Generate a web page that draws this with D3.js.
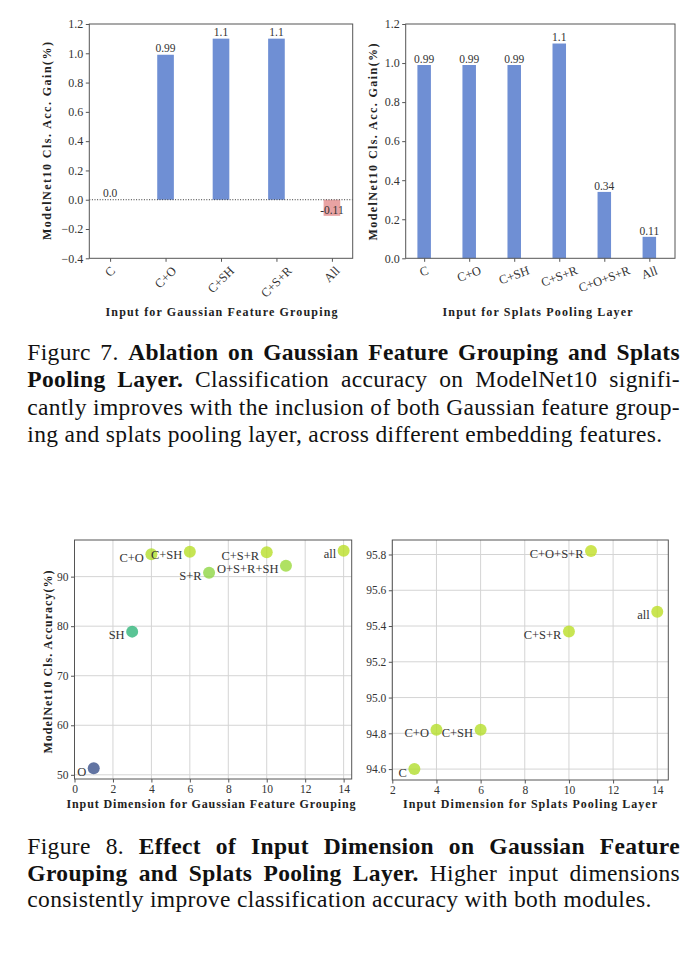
<!DOCTYPE html>
<html><head><meta charset="utf-8">
<script src="https://cdn.jsdelivr.net/npm/d3@7"></script>
<style>body{margin:0;background:#fff} svg{display:block}</style>
</head><body>
<svg id="fig" width="700" height="954"></svg>
<script>
// ---------- data ----------
const groupCats = ["C", "C+O", "C+SH", "C+S+R", "All"];
const groupGain = [0.0, 0.99, 1.1, 1.1, -0.11];
const groupLabels = ["0.0", "0.99", "1.1", "1.1", "-0.11"];
const groupTicks = [-0.4, -0.2, 0.0, 0.2, 0.4, 0.6, 0.8, 1.0, 1.2];

const poolCats = ["C", "C+O", "C+SH", "C+S+R", "C+O+S+R", "All"];
const poolGain = [0.99, 0.99, 0.99, 1.1, 0.34, 0.11];
const poolLabels = ["0.99", "0.99", "0.99", "1.1", "0.34", "0.11"];
const poolTicks = [0.0, 0.2, 0.4, 0.6, 0.8, 1.0, 1.2];

const dimGroupNames = ["O", "SH", "C+O", "C+SH", "S+R", "C+S+R", "O+S+R+SH", "all"];
const dimGroupX = [1, 3, 4, 6, 7, 10, 11, 14];
const dimGroupAcc = [51.35, 78.9, 94.5, 95.0, 90.8, 94.9, 92.2, 95.2];
const dimGroupXTicks = [0, 2, 4, 6, 8, 10, 12, 14];
const dimGroupYTicks = [50, 60, 70, 80, 90];

const dimPoolNames = ["C", "C+O", "C+SH", "C+S+R", "C+O+S+R", "all"];
const dimPoolX = [3, 4, 6, 10, 11, 14];
const dimPoolAcc = [94.6, 94.82, 94.82, 95.37, 95.82, 95.48];
const dimPoolXTicks = [2, 4, 6, 8, 10, 12, 14];
const dimPoolYTicks = [94.6, 94.8, 95.0, 95.2, 95.4, 95.6, 95.8];

const cap7 = [
  [["Figurc 7. ", false], ["Ablation on Gaussian Feature Grouping and Splats", true]],
  [["Pooling Layer.", true], [" Classification accuracy on ModelNet10 signifi-", false]],
  [["cantly improves with the inclusion of both Gaussian feature group-", false]],
  [["ing and splats pooling layer, across different embedding features.", false]]
];
const cap8 = [
  [["Figure 8. ", false], ["Effect of Input Dimension on Gaussian Feature", true]],
  [["Grouping and Splats Pooling Layer.", true], [" Higher input dimensions", false]],
  [["consistently improve classification accuracy with both modules.", false]]
];

// ---------- style ----------
const SERIF = "'Liberation Serif', 'Times New Roman', serif";
const BLUE = "#6f8fd4", RED = "#e9a3a3";
const SPINE = "#555", TXT = "#333", GRID = "#d4d4d4";

const svg = d3.select("#fig");
svg.append("rect").attr("width", 700).attr("height", 954).attr("fill", "#fff");

function frame(g, x0, x1, y0, y1) {
  g.append("rect").attr("x", x0).attr("y", y0).attr("width", x1 - x0).attr("height", y1 - y0)
    .attr("fill", "none").attr("stroke", SPINE).attr("stroke-width", 1);
}
function styleAxis(ax, fs) {
  ax.select(".domain").remove();
  ax.selectAll(".tick line").attr("stroke", SPINE);
  ax.selectAll(".tick text").attr("font-family", SERIF).attr("font-size", fs).attr("fill", TXT);
}
function title(g, text, x, y, len, rotate) {
  const t = g.append("text").text(text)
    .attr("font-family", SERIF).attr("font-weight", "bold").attr("font-size", 12)
    .attr("fill", "#222").attr("text-anchor", "middle")
    .attr("textLength", len).attr("lengthAdjust", "spacing");
  if (rotate) t.attr("transform", `translate(${x},${y}) rotate(-90)`);
  else t.attr("x", x).attr("y", y);
}

// ---------- bar charts ----------
function barChart(o) {
  const g = svg.append("g");
  const x = d3.scaleLinear().domain(o.xDom).range([o.x0, o.x1]);
  const y = d3.scaleLinear().domain(o.yDom).range([o.y1, o.y0]);
  const bw = x(0.3) - x(0);
  g.selectAll("rect.bar").data(o.vals).join("rect").attr("class", "bar")
    .attr("x", (d, i) => x(i) - bw / 2)
    .attr("y", d => Math.min(y(d), y(0)))
    .attr("width", bw)
    .attr("height", d => Math.abs(y(d) - y(0)))
    .attr("fill", d => d < 0 ? RED : BLUE);
  if (o.zeroLine) {
    g.append("line").attr("x1", o.x0).attr("x2", o.x1).attr("y1", y(0)).attr("y2", y(0))
      .attr("stroke", "#333").attr("stroke-width", 1).attr("stroke-dasharray", "1,1.6");
  }
  g.selectAll("text.val").data(o.vals).join("text").attr("class", "val")
    .attr("x", (d, i) => x(i)).attr("y", d => y(d) - 2.3)
    .attr("text-anchor", "middle").attr("font-family", SERIF).attr("font-size", 11.5)
    .attr("fill", TXT).text((d, i) => o.labels[i]);
  const ya = g.append("g").attr("transform", `translate(${o.x0},0)`)
    .call(d3.axisLeft(y).tickValues(o.yTicks).tickFormat(d3.format(".1f")).tickSize(3.5).tickPadding(2.5));
  styleAxis(ya, 12);
  const xa = g.append("g").attr("transform", `translate(0,${o.y1})`)
    .call(d3.axisBottom(x).tickValues(d3.range(o.cats.length)).tickFormat("").tickSize(3.5));
  styleAxis(xa, 12);
  const th = o.rot * Math.PI / 180;
  o.cats.forEach((c, i) => {
    const t = g.append("text").text(c).attr("font-family", SERIF).attr("font-size", 12.5)
      .attr("fill", TXT).attr("text-anchor", "middle").attr("dominant-baseline", "central");
    const w = t.node().getComputedTextLength(), h = 10;
    const H = w * Math.sin(th) + h * Math.cos(th);
    t.attr("transform", `translate(${x(i)},${o.y1 + 7 + H / 2}) rotate(${-o.rot})`);
  });
  frame(g, o.x0, o.x1, o.y0, o.y1);
  title(g, o.xTitle, o.xTitleX, 316, o.xTitleLen, false);
  title(g, o.yTitle, o.yTitleX, o.yTitleY, o.yTitleLen, true);
}

barChart({
  cats: groupCats, vals: groupGain, labels: groupLabels, yTicks: groupTicks,
  x0: 89.3, x1: 352.7, y0: 24, y1: 258.3, xDom: [-0.375, 4.375], yDom: [-0.4, 1.2],
  rot: 45, zeroLine: true,
  xTitle: "Input for Gaussian Feature Grouping", xTitleX: 221.5, xTitleLen: 232,
  yTitle: "ModelNet10 Cls. Acc. Gain(%)", yTitleX: 51, yTitleY: 141, yTitleLen: 198
});
barChart({
  cats: poolCats, vals: poolGain, labels: poolLabels, yTicks: poolTicks,
  x0: 405.7, x1: 675, y0: 24, y1: 258.3, xDom: [-0.41, 5.57], yDom: [0, 1.2],
  rot: 20, zeroLine: false,
  xTitle: "Input for Splats Pooling Layer", xTitleX: 537.5, xTitleLen: 190,
  yTitle: "ModelNet10 Cls. Acc. Gain(%)", yTitleX: 376.5, yTitleY: 142, yTitleLen: 197
});

// ---------- scatter charts ----------
const colorT = d3.scaleLinear().domain([34.4, 102.3]).range([0, 1]).clamp(true);
function scatter(o) {
  const g = svg.append("g");
  const ext = d3.extent(o.ys), pad = (ext[1] - ext[0]) * 0.05;
  const x = d3.scaleLinear().domain(o.xDom).range([o.x0, o.x1]);
  const y = d3.scaleLinear().domain([ext[0] - pad, ext[1] + pad]).range([o.y1, o.y0]);
  g.selectAll("line.gx").data(o.xTicks).join("line").attr("class", "gx")
    .attr("x1", d => x(d)).attr("x2", d => x(d)).attr("y1", o.y0).attr("y2", o.y1)
    .attr("stroke", GRID).attr("stroke-width", 1);
  g.selectAll("line.gy").data(o.yTicks).join("line").attr("class", "gy")
    .attr("y1", d => y(d)).attr("y2", d => y(d)).attr("x1", o.x0).attr("x2", o.x1)
    .attr("stroke", GRID).attr("stroke-width", 1);
  const ya = g.append("g").attr("transform", `translate(${o.x0},0)`)
    .call(d3.axisLeft(y).tickValues(o.yTicks).tickFormat(d3.format(o.yFmt)).tickSize(3.5).tickPadding(2.5));
  styleAxis(ya, 11.5);
  const xa = g.append("g").attr("transform", `translate(0,${o.y1})`)
    .call(d3.axisBottom(x).tickValues(o.xTicks).tickFormat(d3.format("d")).tickSize(3.5).tickPadding(2));
  styleAxis(xa, 11.5);
  g.selectAll("circle").data(o.xs).join("circle")
    .attr("cx", d => x(d)).attr("cy", (d, i) => y(o.ys[i])).attr("r", 6)
    .attr("fill", (d, i) => d3.interpolateViridis(colorT(o.ys[i]))).attr("fill-opacity", 0.8);
  g.selectAll("text.lbl").data(o.xs).join("text").attr("class", "lbl")
    .attr("x", d => x(d) - 7.5).attr("y", (d, i) => y(o.ys[i]) + 7.5)
    .attr("text-anchor", "end").attr("font-family", SERIF).attr("font-size", 12.5)
    .attr("fill", TXT).text((d, i) => o.names[i]);
  frame(g, o.x0, o.x1, o.y0, o.y1);
  title(g, o.xTitle, o.xTitleX, 808, o.xTitleLen, false);
  if (o.yTitle) title(g, o.yTitle, o.yTitleX, o.yTitleY, o.yTitleLen, true);
}

scatter({
  names: dimGroupNames, xs: dimGroupX, ys: dimGroupAcc, xTicks: dimGroupXTicks, yTicks: dimGroupYTicks,
  yFmt: "d", x0: 74.5, x1: 351.7, y0: 540, y1: 779, xDom: [0, 14.42],
  xTitle: "Input Dimension for Gaussian Feature Grouping", xTitleX: 211, xTitleLen: 289,
  yTitle: "ModelNet10 Cls. Accuracy(%)", yTitleX: 51.5, yTitleY: 662, yTitleLen: 183
});
scatter({
  names: dimPoolNames, xs: dimPoolX, ys: dimPoolAcc, xTicks: dimPoolXTicks, yTicks: dimPoolYTicks,
  yFmt: ".1f", x0: 392.3, x1: 668.3, y0: 540, y1: 780, xDom: [2, 14.5],
  xTitle: "Input Dimension for Splats Pooling Layer", xTitleX: 530, xTitleLen: 254
});

// ---------- captions ----------
function caption(lines, baselines, justifyCount) {
  lines.forEach((parts, li) => {
    const t = svg.append("text").attr("x", 27.3).attr("y", baselines[li])
      .attr("font-family", SERIF).attr("font-size", 23.5).attr("letter-spacing", 0.35)
      .attr("fill", "#111").style("white-space", "pre");
    parts.forEach(([s, b]) => {
      t.append("tspan").text(s).attr("font-weight", b ? "bold" : "normal");
    });
    if (li < justifyCount) {
      const full = parts.map(p => p[0]).join("");
      const spaces = (full.match(/ /g) || []).length;
      const w = t.node().getComputedTextLength();
      const target = 680 - 27.3;
      if (spaces > 0) t.attr("word-spacing", (target - w) / spaces);
    }
  });
}
caption(cap7, [360, 387.3, 414.6, 441.9], 3);
caption(cap8, [854, 880.7, 907.4], 2);
</script>
</body></html>
